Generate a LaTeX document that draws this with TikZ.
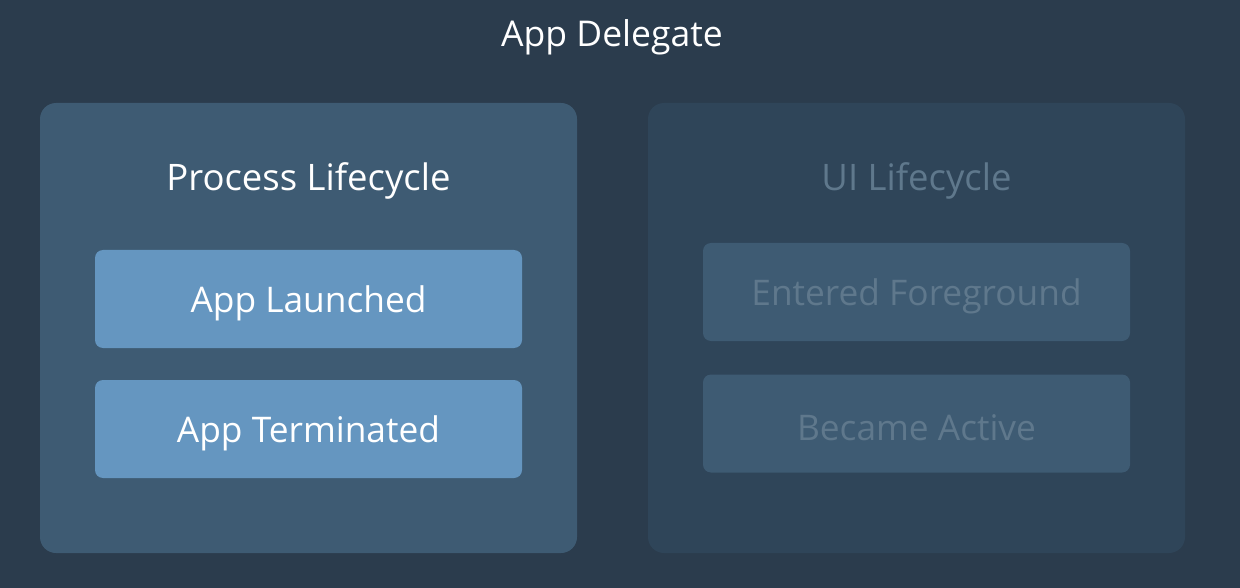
\documentclass[tikz,border=0pt]{standalone}
\usepackage{fontspec}
\setmainfont{Open Sans}
\definecolor{bg}{HTML}{2B3C4D}
\definecolor{panelA}{HTML}{3E5B73}
\definecolor{panelB}{HTML}{2F4559}
\definecolor{boxA}{HTML}{6596C0}
\definecolor{boxB}{HTML}{3E5B73}
\definecolor{dimtext}{HTML}{5F788C}
\begin{document}
\begin{tikzpicture}[x=1pt,y=-1pt,
  panel/.style={rounded corners=16pt, inner sep=0pt},
  itembox/.style={rounded corners=8pt, inner sep=0pt, minimum width=427pt, minimum height=98pt},
  bigtext/.style={font=\fontsize{35.5}{42}\selectfont, text=white},
  titletext/.style={font=\fontsize{36.5}{44}\selectfont},
  itemtext/.style={font=\fontsize{35.3}{42}\selectfont}]
\fill[bg] (0,0) rectangle (1240,588);
\useasboundingbox (0,0) rectangle (1240,588);
\node[bigtext] (delegate) at (612,37.5) {App Delegate};
% left panel
\fill[panelA, panel] (40,103) rectangle (577,553);
\node[titletext, text=white] (proc) at (308.5,181) {Process Lifecycle};
\node[itembox, fill=boxA, text=white, itemtext] (launched) at (308.5,299) {};
\node[itemtext, text=white] (launchedT) at (308.5,303) {App Launched};
\node[itembox, fill=boxA, text=white, itemtext] (terminated) at (308.5,429) {};
\node[itemtext, text=white] (terminatedT) at (308.5,433) {App Terminated};
% right panel
\fill[panelB, panel] (648,103) rectangle (1185,553);
\node[titletext, text=dimtext] (ui) at (916.5,181) {UI Lifecycle};
\node[itembox, fill=boxB, text=dimtext, itemtext] (foreground) at (916.5,292) {};
\node[itemtext, text=dimtext] (foregroundT) at (916.5,296) {Entered Foreground};
\node[itembox, fill=boxB, text=dimtext, itemtext] (active) at (916.5,423.5) {};
\node[itemtext, text=dimtext] (activeT) at (916.5,427.5) {Became Active};
\end{tikzpicture}
\end{document}
